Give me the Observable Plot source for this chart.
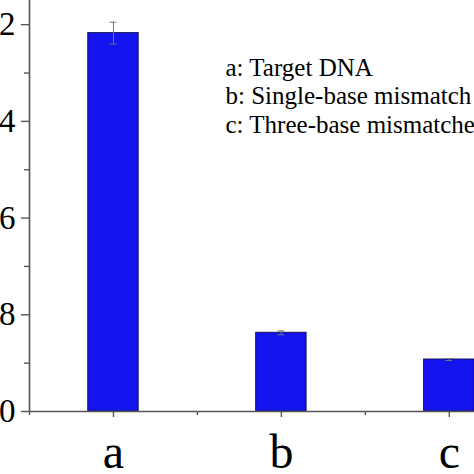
<!DOCTYPE html>
<html>
<head>
<meta charset="utf-8">
<script src="https://cdn.jsdelivr.net/npm/d3@7"></script>
<script src="https://cdn.jsdelivr.net/npm/@observablehq/plot@0.6"></script>
<style>
html, body { margin: 0; padding: 0; background: #fff; overflow: hidden; }
#chart { width: 474px; height: 474px; overflow: hidden; }
#chart svg { overflow: hidden !important; display: block; }
</style>
</head>
<body>
<div id="chart"></div>
<script>
const categories = ["a", "b", "c"];
const values = [3.13, 0.651, 0.43];
const errors = [0.09, 0.016, 0.008];
const yTicks = [0, 0.8, 1.6, 2.4, 3.2];
const yMinorTicks = [0.4, 1.2, 2.0, 2.8];
const xMinorTicks = [0.5, 1.5, 2.5];
const legendLines = ["a: Target DNA", "b: Single-base mismatch", "c: Three-base mismatches"];

const data = categories.map((c, i) => ({ cat: c, pos: i + 1, value: values[i], err: errors[i] }));
const serif = "'Liberation Serif', 'Times New Roman', serif";
const axisColor = "#555";

const chart = Plot.plot({
  width: 474,
  height: 474,
  marginLeft: 29,
  marginRight: 0,
  marginTop: 0,
  marginBottom: 63,
  style: { fontFamily: serif, background: "#fff", color: "#000" },
  x: { type: "linear", domain: [0.5, 3.15], axis: null, label: null },
  y: { domain: [0, 3.4], axis: null, label: null },
  marks: [
    Plot.rectY(data, {
      x1: d => d.pos - 0.15, x2: d => d.pos + 0.15, y1: 0, y2: "value",
      fill: "#1414EE", stroke: "#10105a", strokeWidth: 1
    }),
    Plot.ruleX(data, { x: "pos", y1: d => d.value - d.err, y2: d => d.value + d.err, stroke: "#777", strokeWidth: 1 }),
    Plot.ruleY(data, { y: d => d.value + d.err, x1: d => d.pos - 0.02, x2: d => d.pos + 0.02, stroke: "#777", strokeWidth: 1 }),
    Plot.ruleY(data, { y: d => d.value - d.err, x1: d => d.pos - 0.02, x2: d => d.pos + 0.02, stroke: "#777", strokeWidth: 1 }),
    Plot.ruleX([0.5], { stroke: axisColor, strokeWidth: 1.6 }),
    Plot.ruleY([0], { stroke: axisColor, strokeWidth: 1.6 }),
    Plot.axisY({ ticks: yTicks, tickFormat: d3.format(".1f"), tickSize: 8, tickPadding: 6, fontSize: 33, stroke: axisColor, fill: "#000", strokeWidth: 1.4, label: null }),
    Plot.axisY({ ticks: yMinorTicks, tickFormat: () => "", tickSize: 5, stroke: axisColor, strokeWidth: 1.4, label: null }),
    Plot.axisX({ ticks: [1, 2, 3], tickFormat: i => categories[i - 1], tickSize: 6, tickPadding: 16, fontSize: 48, stroke: axisColor, fill: "#000", strokeWidth: 1.4, label: null }),
    Plot.axisX({ ticks: xMinorTicks, tickFormat: () => "", tickSize: 4, stroke: axisColor, strokeWidth: 1.4, label: null }),
    Plot.text([legendLines.join("\n")], {
      text: d => d, frameAnchor: "top-left", textAnchor: "start", lineAnchor: "top",
      dx: 196, dy: 55, fontSize: 25, lineHeight: 1.14, fill: "#000", fontFamily: serif
    })
  ]
});
document.getElementById("chart").appendChild(chart);
</script>
</body>
</html>
